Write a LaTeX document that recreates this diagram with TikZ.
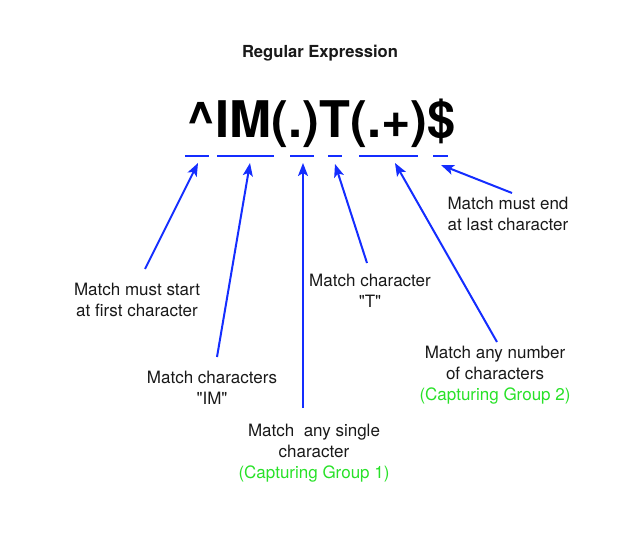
\documentclass[tikz,border=0pt]{standalone}
\usepackage{fontspec}
\setmainfont{TeX Gyre Heros}
\usetikzlibrary{arrows.meta, positioning}

\definecolor{markblue}{RGB}{20,45,255}
\definecolor{groupgreen}{RGB}{40,225,40}
\definecolor{inkgray}{RGB}{25,25,25}

\tikzset{
  heading/.style={font=\fontsize{16.6bp}{20bp}\bfseries\selectfont, anchor=base, inner sep=0pt, text=inkgray},
  regex/.style={font=\fontsize{50.5bp}{60bp}\bfseries\selectfont, anchor=base, inner sep=0pt, text=black},
  note/.style={font=\fontsize{17bp}{21bp}\selectfont, align=center, inner sep=0pt, text=inkgray},
  underline/.style={draw=markblue, line width=2bp},
  pointer/.style={draw=markblue, line width=2bp, -{Stealth[length=13bp, width=10bp, inset=3bp]}}
}

\begin{document}
\begin{tikzpicture}[x=1bp, y=-1bp]
\useasboundingbox (0,0) rectangle (640,555);
% Heading and the expression
\node[heading] (heading) at (320,58) {Regular Expression};
\node[regex] (regex) at (321,138) {\textasciicircum IM(.)T(.+)\$};
% Underlines below each part
\draw[underline] (185,156) -- (209,156);
\draw[underline] (217,156) -- (274,156);
\draw[underline] (290,156) -- (314,156);
\draw[underline] (328,156) -- (342,156);
\draw[underline] (359,156) -- (418,156);
\draw[underline] (433,156) -- (448,156);
% Arrow tips just under the underlines
\coordinate (caret) at (198,163);
\coordinate (im) at (250,163);
\coordinate (group1) at (303,163);
\coordinate (tee) at (335,164);
\coordinate (group2) at (395,163);
\coordinate (dollar) at (441,165);
% Free ends of the arrows
\coordinate (caretfoot) at (145,269);
\coordinate (imfoot) at (217,357);
\coordinate (group1foot) at (303,408);
\coordinate (teefoot) at (367,263);
\coordinate (group2foot) at (497,342);
\coordinate (dollarfoot) at (512,193);
% Notes under the free ends
\node[note, below=14bp of caretfoot, xshift=-8bp] (caretnote) {Match must start\\at first character};
\node[note, below=14bp of imfoot, xshift=-5bp] (imnote) {Match characters\\\textquotedbl IM\textquotedbl};
\node[note, below=16bp of group1foot, xshift=11bp] (group1note) {Match\ \ any single\\character\\\textcolor{groupgreen}{(Capturing Group 1)}};
\node[note, below=11bp of teefoot, xshift=3bp] (teenote) {Match character\\\textquotedbl T\textquotedbl};
\node[note, below=4bp of group2foot, xshift=-2bp] (group2note) {Match any number\\of characters\\\textcolor{groupgreen}{(Capturing Group 2)}};
\node[note, below=4bp of dollarfoot, xshift=-4bp] (dollarnote) {Match must end\\at last character};
% Arrows up to the underlines
\draw[pointer] (caretfoot) -- (caret);
\draw[pointer] (imfoot) -- (im);
\draw[pointer] (group1foot) -- (group1);
\draw[pointer] (teefoot) -- (tee);
\draw[pointer] (group2foot) -- (group2);
\draw[pointer] (dollarfoot) -- (dollar);
\end{tikzpicture}
\end{document}
